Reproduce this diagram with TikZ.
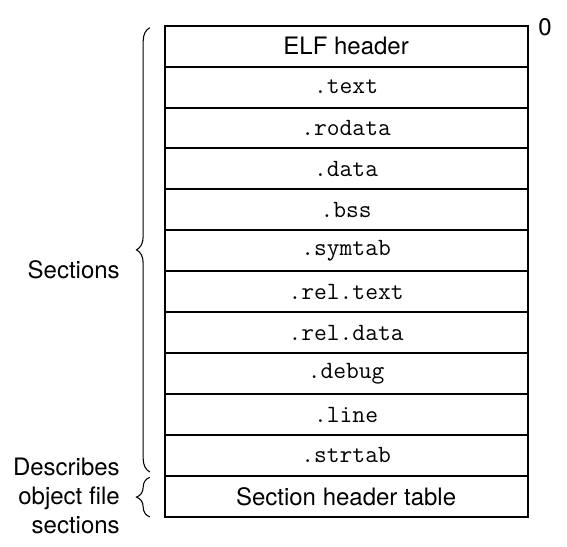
\documentclass[tikz,border=0pt]{standalone}
\usepackage{fontspec}
\setmainfont{TeX Gyre Heros}
\usepackage{tikz}
\usetikzlibrary{positioning,decorations.pathreplacing}

\begin{document}
\begin{tikzpicture}[x=0.75pt,y=-0.75pt,
  sect/.style={draw,line width=1.5pt,outer sep=0pt,inner sep=0pt,minimum width=272.4pt,minimum height=30.7pt,font=\fontsize{18}{21.6}\selectfont},
  mono/.style={sect,font=\fontsize{18.6}{22}\selectfont\ttfamily},
  lbl/.style={font=\fontsize{18}{21.6}\selectfont,align=right,inner sep=0pt},
  curly/.style={decorate,decoration={brace,amplitude=10pt},line width=0.8pt}]
  \useasboundingbox (0,0) rectangle (567,546);
  \node[sect] (elf) at (346.1,46.15) {ELF header};
  \node[mono,below=0pt of elf] (text) {.text};
  \node[mono,below=0pt of text] (rodata) {.rodata};
  \node[mono,below=0pt of rodata] (data) {.data};
  \node[mono,below=0pt of data] (bss) {.bss};
  \node[mono,below=0pt of bss] (symtab) {.symtab};
  \node[mono,below=0pt of symtab] (reltext) {.rel.text};
  \node[mono,below=0pt of reltext] (reldata) {.rel.data};
  \node[mono,below=0pt of reldata] (debug) {.debug};
  \node[mono,below=0pt of debug] (line) {.line};
  \node[mono,below=0pt of line] (strtab) {.strtab};
  \node[sect,below=0pt of strtab] (sht) {Section header table};
  % offset label
  \node[lbl,anchor=west] (zero) at (538,27) {0};
  % braces
  \draw[curly] ([xshift=-11pt,yshift=3pt]strtab.south west) -- ([xshift=-11pt,yshift=-1.5pt]elf.north west);
  \draw[curly] ([xshift=-11pt]sht.south west) -- ([xshift=-11pt,yshift=-1pt]sht.north west);
  \node[lbl,anchor=east] (secs) at (120,270) {Sections};
  \node[lbl,anchor=east] (desc) at (120,496) {Describes\\object file\\sections};
\end{tikzpicture}
\end{document}
